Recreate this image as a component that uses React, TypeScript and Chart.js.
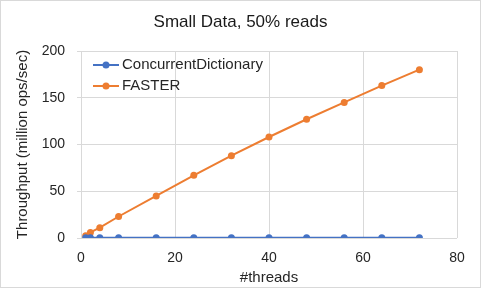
import React, { useEffect, useRef } from "react";
import { Chart, registerables } from "chart.js";

Chart.register(...registerables);

const threads = [1, 2, 4, 8, 16, 24, 32, 40, 48, 56, 64, 72];
const concurrentDictionary = [0.3, 0.3, 0.3, 0.3, 0.3, 0.3, 0.3, 0.3, 0.3, 0.3, 0.3, 0.3];
const faster = [2.5, 6, 11, 23, 45, 67, 88, 108, 127, 145, 163, 180];
const seriesNames = ["ConcurrentDictionary", "FASTER"];
const seriesColors = ["#4472C4", "#ED7D31"];
const titleText = "Small Data, 50% reads";
const xTitle = "#threads";
const yTitle = "Throughput (million ops/sec)";

const FONT = "'Liberation Sans', Arial, sans-serif";
const TEXT = "#262626";

const titleAndLegendPlugin = {
  id: "titleAndLegend",
  afterDraw(chart: any) {
    const ctx = chart.ctx;
    const area = chart.chartArea;
    ctx.save();
    ctx.fillStyle = "#1a1a1a";
    ctx.font = `17px ${FONT}`;
    ctx.textAlign = "center";
    ctx.textBaseline = "middle";
    ctx.fillText(titleText, chart.width / 2, 21);
    chart.data.datasets.forEach((ds: any, i: number) => {
      const y = area.top + 14 + i * 21;
      const x0 = area.left + 12;
      ctx.strokeStyle = ds.borderColor;
      ctx.lineWidth = 2;
      ctx.beginPath();
      ctx.moveTo(x0, y);
      ctx.lineTo(x0 + 26, y);
      ctx.stroke();
      ctx.fillStyle = ds.backgroundColor;
      ctx.beginPath();
      ctx.arc(x0 + 13, y, 3.5, 0, Math.PI * 2);
      ctx.fill();
      ctx.fillStyle = TEXT;
      ctx.font = `15px ${FONT}`;
      ctx.textBaseline = "middle";
      ctx.textAlign = "left";
      ctx.fillText(ds.label, x0 + 29, y);
    });
    ctx.restore();
  },
};

export default function App() {
  const ref = useRef<HTMLCanvasElement>(null);
  useEffect(() => {
    document.body.style.margin = "0";
    const chart = new Chart(ref.current!, {
      type: "line",
      data: {
        datasets: [
          {
            label: seriesNames[0],
            data: threads.map((t, i) => ({ x: t, y: concurrentDictionary[i] })),
            borderColor: seriesColors[0],
            backgroundColor: seriesColors[0],
            borderWidth: 2,
            pointRadius: 3.5,
            pointBorderWidth: 0,
          },
          {
            label: seriesNames[1],
            data: threads.map((t, i) => ({ x: t, y: faster[i] })),
            borderColor: seriesColors[1],
            backgroundColor: seriesColors[1],
            borderWidth: 2,
            pointRadius: 3.5,
            pointBorderWidth: 0,
          },
        ],
      },
      options: {
        animation: false,
        responsive: false,
        layout: { padding: { left: 0, right: 23, top: 50, bottom: 0 } },
        plugins: {
          legend: { display: false },
          tooltip: { enabled: false },
          title: { display: false },
        },
        scales: {
          x: {
            type: "linear",
            min: 0,
            max: 80,
            ticks: {
              stepSize: 20,
              color: TEXT,
              font: { family: FONT, size: 14 },
              padding: 12,
              maxRotation: 0,
            },
            grid: { color: "#d9d9d9", drawTicks: false, lineWidth: 1 },
            border: { display: false },
            title: {
              display: true,
              text: xTitle,
              color: TEXT,
              font: { family: FONT, size: 15 },
              padding: { top: 0, bottom: 0 },
            },
            afterFit(s: any) {
              s.height = 49;
            },
          },
          y: {
            min: 0,
            max: 200,
            ticks: {
              stepSize: 50,
              color: TEXT,
              font: { family: FONT, size: 14 },
              padding: 12,
            },
            grid: { color: "#d9d9d9", drawTicks: true, tickLength: 4, lineWidth: 1 },
            border: { display: false },
            title: {
              display: true,
              text: yTitle,
              color: TEXT,
              font: { family: FONT, size: 15 },
              padding: { top: 13, bottom: 0 },
            },
            afterFit(s: any) {
              s.width = 80;
            },
          },
        },
      },
      plugins: [titleAndLegendPlugin],
    });
    return () => chart.destroy();
  }, []);
  return (
    <div
      style={{
        position: "absolute",
        left: 0,
        top: 0,
        width: 481,
        height: 288,
        boxSizing: "border-box",
        border: "1px solid #d9d9d9",
        background: "#fff",
      }}
    >
      <canvas ref={ref} width={479} height={286} style={{ display: "block" }} />
    </div>
  );
}
